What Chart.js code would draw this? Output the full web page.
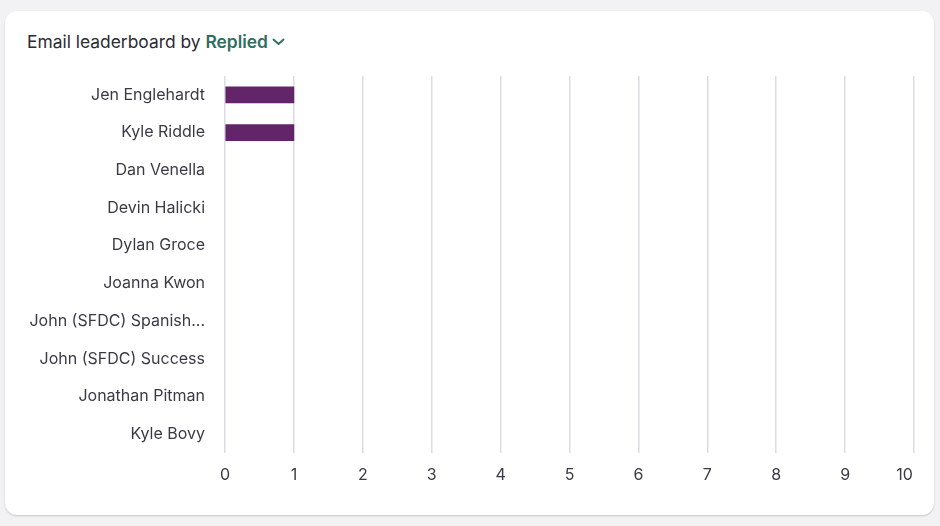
<!DOCTYPE html>
<html><head><meta charset="utf-8">
<script src="https://cdn.jsdelivr.net/npm/chart.js@4"></script>
<style>
html,body{margin:0;padding:0;background:#f2f2f4;width:940px;height:526px;overflow:hidden;font-family:Inter,"Noto Sans",sans-serif;}
.card{position:absolute;left:5px;top:11px;width:929px;height:504px;background:#fff;border-radius:12px;box-shadow:0 1px 2px rgba(0,0,0,0.18);}
.title{position:absolute;left:27px;top:31px;font-size:17.4px;color:#2b2b36;white-space:nowrap;}
.title b{color:#2f6e5e;font-weight:600;}
.title svg{vertical-align:middle;margin-left:4px;margin-top:-3px;}
#wrap{position:absolute;left:0;top:0;width:940px;height:526px;}
</style></head>
<body>
<div class="card"></div>
<div class="title">Email leaderboard by <b>Replied</b><svg width="13" height="8" viewBox="0 0 13 8"><path d="M1.5 1.5 L6.5 6 L11.5 1.5" fill="none" stroke="#2f6e5e" stroke-width="1.8" stroke-linecap="round" stroke-linejoin="round"/></svg></div>
<div id="wrap"><canvas id="c"></canvas></div>
<script>
const categories = ["Jen Englehardt","Kyle Riddle","Dan Venella","Devin Halicki","Dylan Groce","Joanna Kwon","John (SFDC) Spanish...","John (SFDC) Success","Jonathan Pitman","Kyle Bovy"];
const replied = [1,1,0,0,0,0,0,0,0,0];
const xTicks = [0,1,2,3,4,5,6,7,8,9,10];

new Chart(document.getElementById('c'), {
  type: 'bar',
  data: { labels: categories, datasets: [{ data: replied,
    backgroundColor: ctx => (ctx.raw ? '#632569' : 'rgba(0,0,0,0)'),
    barThickness: 16, borderWidth: 0 }] },
  options: {
    indexAxis: 'y', responsive: true, maintainAspectRatio: false, animation: false,
    layout: { padding: { top: 76, right: 26, bottom: 0, left: 0 } },
    plugins: { legend: { display: false }, tooltip: { enabled: false } },
    scales: {
      x: {
        min: xTicks[0], max: xTicks[xTicks.length-1],
        afterBuildTicks: s => { s.ticks = xTicks.map(v => ({ value: v })); },
        afterFit: s => { s.height = 73; s.paddingRight = 0; },
        grid: { color: '#dcdce4', lineWidth: 1.5, drawTicks: false },
        border: { display: false },
        ticks: { padding: 13, color: '#3a3a46', font: { family: 'Inter', size: 16 },
          callback: (v, i, arr) => (i === arr.length - 1 ? String(v) + '\u2002\u2002\u2009' : String(v)) }
      },
      y: {
        afterFit: s => { s.width = 225; },
        grid: { display: false, drawTicks: false },
        border: { display: false },
        ticks: { padding: 20, color: '#3a3a46', font: { family: 'Inter', size: 16 } }
      }
    }
  }
});
</script>
</body></html>
